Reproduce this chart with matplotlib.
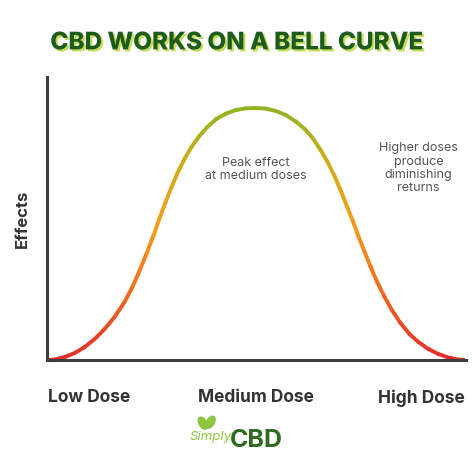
import numpy as np
import matplotlib
matplotlib.use("Agg")
import matplotlib.pyplot as plt
from matplotlib.collections import LineCollection
from matplotlib.colors import LinearSegmentedColormap
from matplotlib.patches import Ellipse
import matplotlib.patheffects as pe

# curve (arbitrary units, no numeric ticks on the chart)
dose = [0, 8, 18, 28, 38, 48, 58, 68, 78, 86, 93, 100, 107, 113, 119, 125, 131,
        138, 145, 153, 161, 170, 180, 190, 200, 210,
        220, 230, 240, 250, 259, 267, 275, 282, 289, 295, 301, 307, 313, 319,
        325, 332, 339, 347, 355, 364, 373, 383, 393, 403, 412, 419]
effect = [0, 0.5, 3, 7, 13, 21, 31, 43, 58, 73, 89, 106, 124, 141, 157, 172, 186,
          200, 212, 223, 232, 240, 245.5, 249, 250.7, 251,
          250.4, 248, 244, 237.5, 230, 221, 209, 197, 183, 169, 154, 139, 123, 108,
          93, 77, 63, 49, 37, 26, 18, 11, 6, 2.5, 0.5, 0]

tick_pos = [42, 210, 376]
tick_labels = ["Low Dose", "Medium Dose", "High Dose"]
title = "CBD WORKS ON A BELL CURVE"
peak_note = "Peak effect\nat medium doses"
high_note = "Higher doses\nproduce\ndiminishing\nreturns"

plt.rcParams['font.family'] = ['Inter', 'DejaVu Sans']

fig = plt.figure(figsize=(4.74, 4.66), dpi=100)
ax = fig.add_axes([0.0992, 0.2275, 0.884, 0.6075])

# gradient coloured line, colour follows height
cmap = LinearSegmentedColormap.from_list(
    "bell", [(0, '#e42b2b'), (0.25, '#f0661f'), (0.55, '#f5a01a'),
             (0.8, '#cbae1a'), (1, '#8fb520')])
x = np.array(dose, dtype=float)
y = np.array(effect, dtype=float)
pts = np.column_stack([x, y]).reshape(-1, 1, 2)
segs = np.concatenate([pts[:-1], pts[1:]], axis=1)
lc = LineCollection(segs, cmap=cmap, linewidth=2.8, capstyle='round', joinstyle='round')
lc.set_array((y[:-1] + y[1:]) / 2)
lc.set_clim(0, 251)
ax.add_collection(lc)

ax.set_xlim(0, 421)
ax.set_ylim(0, 282)
for s in ['top', 'right']:
    ax.spines[s].set_visible(False)
for s in ['left', 'bottom']:
    ax.spines[s].set_color('#3d3d3d')
    ax.spines[s].set_linewidth(2.2)
ax.set_yticks([])
ax.set_xticks(tick_pos)
ax.set_xticklabels(tick_labels, fontsize=12.5, fontweight='bold', color='#333333')
ax.tick_params(axis='x', length=0, pad=21)
ax.set_ylabel("Effects", fontsize=12, fontweight='bold', color='#333333', labelpad=12)

ax.text(210, 190, peak_note, ha='center', va='center', fontsize=9,
        color='#555555', linespacing=1.15)
ax.text(373, 191, high_note, ha='center', va='center', fontsize=9,
        color='#555555', linespacing=1.15)

fig.text(0.5, 0.908, title, ha='center', va='center', fontsize=17.5,
         fontweight='heavy', color='#1d5c1d',
         path_effects=[pe.withSimplePatchShadow(offset=(1.5, -1.5), shadow_rgbFace='#c6de5a', alpha=1)])

# logo
fig.text(0.489, 0.062, "Simply", ha='right', va='center', fontsize=9.5,
         style='italic', color='#8dc63f')
fig.text(0.484, 0.054, "CBD", ha='left', va='center', fontsize=18,
         fontweight='bold', color='#2f6a1f')
fig.patches.append(Ellipse((0.428, 0.092), 0.016, 0.028, angle=30,
                           transform=fig.transFigure, color='#8dc63f'))
fig.patches.append(Ellipse((0.444, 0.094), 0.016, 0.028, angle=-30,
                           transform=fig.transFigure, color='#8dc63f'))

fig.savefig("out.png", dpi=100)
